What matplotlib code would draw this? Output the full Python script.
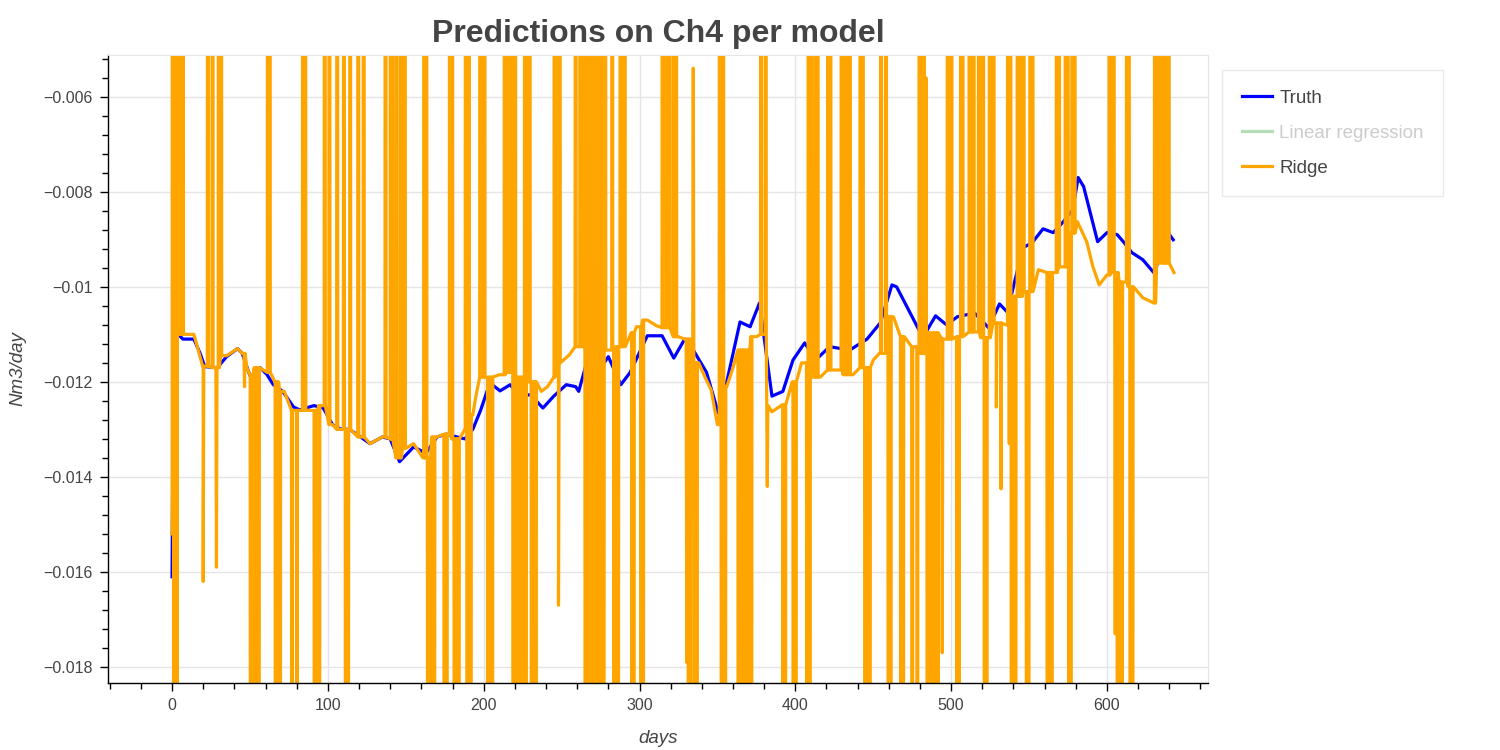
import numpy as np
import matplotlib
matplotlib.use("Agg")
import matplotlib.pyplot as plt
from matplotlib.lines import Line2D
from matplotlib.ticker import FixedLocator, MultipleLocator, FuncFormatter

plt.rcParams['font.family'] = ['Liberation Sans', 'DejaVu Sans']

# Truth curve (day, Nm3/day)
truth_days = [0, 1, 3, 7, 14, 18, 21, 29, 35, 42, 45, 50, 52, 56.5, 61, 65, 71, 78, 82, 91,
              97, 103, 108, 114, 121, 127, 135, 140, 146, 155, 163, 170, 176, 183, 188, 193,
              198, 204, 210.5, 217, 223, 230, 238, 245, 253, 259, 261, 266, 273, 280, 288,
              294, 305, 314.5, 322, 329, 334.5, 343, 350.5, 356, 364.5, 371, 377, 385, 392,
              398.5, 406, 413, 422, 435, 446, 454.5, 462, 465, 480, 483, 490, 497, 504, 515,
              524, 531, 536, 546, 552, 559, 565.5, 572, 578, 581.5, 585, 594, 600, 606.5,
              610.5, 616, 623, 630, 633, 637, 642.5]
truth_vals = [-0.0161, -0.0109, -0.01097, -0.0111, -0.0111, -0.0114, -0.01168, -0.0117,
              -0.01147, -0.0113, -0.0114, -0.01187, -0.0119, -0.0117, -0.01185, -0.01206,
              -0.0122, -0.01253, -0.01259, -0.0125, -0.01255, -0.0129, -0.01299, -0.0130,
              -0.01316, -0.0133, -0.01316, -0.0132, -0.01368, -0.01337, -0.0135, -0.01316,
              -0.0131, -0.01316, -0.0132, -0.0130, -0.0126, -0.01202, -0.01219, -0.01206,
              -0.0123, -0.01227, -0.01255, -0.0123, -0.01206, -0.0121, -0.0122, -0.0116,
              -0.0118, -0.01147, -0.01206, -0.0118, -0.01103, -0.01103, -0.0115, -0.0111,
              -0.01133, -0.0118, -0.01265, -0.0120, -0.01074, -0.01084, -0.01034, -0.0123,
              -0.0122, -0.01154, -0.01118, -0.01154, -0.01126, -0.01133, -0.0111, -0.01076,
              -0.00996, -0.0100, -0.01095, -0.0110, -0.01061, -0.0108, -0.01063, -0.01055,
              -0.01086, -0.01036, -0.01053, -0.00918, -0.00907, -0.00878, -0.00886, -0.00863,
              -0.00838, -0.0077, -0.00789, -0.00905, -0.00886, -0.0089, -0.00905, -0.00928,
              -0.00943, -0.0097, -0.00947, -0.00876, -0.00901]

# Ridge prediction: the slow part that follows the truth
ridge_base_days = [0, 1.5, 3, 14, 20, 27, 35, 42, 45, 48, 50, 56, 61, 66, 72, 80, 82, 91, 97,
                   103, 108, 114, 121, 127, 135, 140, 145, 150, 155, 161, 170, 176, 183, 188,
                   193, 195, 198, 204, 210, 217, 223, 232, 237, 241, 245, 248, 255, 261, 269,
                   280, 288, 295, 298, 305, 311, 315, 325, 329, 338, 342, 346, 350, 356, 360,
                   366, 375, 379, 380, 382.5, 385, 392, 398, 404, 416, 424, 437, 446, 450, 454,
                   463, 470, 476, 483, 489, 497, 506, 514, 522, 529, 535, 541, 550, 556, 565,
                   572, 578, 581, 587, 591, 595, 600, 604, 610, 617, 623, 630, 634, 638, 643]
ridge_base_vals = [-0.0152, -0.0125, -0.0110, -0.0110, -0.01167, -0.0117, -0.01145, -0.0113,
                   -0.0114, -0.0117, -0.01185, -0.0117, -0.0118, -0.0120, -0.0122, -0.0126,
                   -0.0126, -0.0126, -0.0125, -0.0129, -0.0130, -0.0130, -0.01316, -0.0133,
                   -0.01316, -0.0132, -0.0136, -0.0134, -0.0133, -0.0136, -0.01316, -0.0131,
                   -0.0132, -0.0130, -0.0127, -0.0123, -0.0119, -0.0119, -0.01185, -0.0118,
                   -0.0119, -0.0120, -0.0122, -0.0121, -0.0119, -0.0116, -0.01143, -0.01126,
                   -0.01107, -0.01133, -0.01126, -0.01097, -0.01084, -0.0107, -0.01082,
                   -0.01086, -0.01105, -0.0111, -0.0116, -0.0119, -0.01217, -0.0129, -0.0121,
                   -0.0117, -0.01133, -0.01105, -0.0110, -0.0110, -0.0125, -0.01263, -0.01248,
                   -0.0120, -0.0116, -0.0119, -0.01175, -0.01185, -0.0117, -0.01154, -0.0114,
                   -0.01063, -0.01105, -0.01126, -0.0114, -0.01097, -0.0111, -0.01105,
                   -0.01095, -0.01107, -0.01076, -0.0108, -0.0102, -0.0101, -0.00964, -0.0097,
                   -0.00958, -0.00887, -0.00863, -0.00905, -0.00958, -0.00996, -0.00975,
                   -0.0097, -0.0099, -0.0100, -0.01023, -0.01034, -0.0095, -0.0095, -0.0097]

# Ridge outliers (day, predicted value); +0.03 / -0.04 lie far outside the view
ridge_spikes = [
    (0.4, 0.03), (1.3, -0.04), (2.3, 0.03), (3.0, -0.04), (3.9, 0.03), (4.8, 0.03),
    (7.0, 0.03), (20.0, -0.0162), (23.0, 0.03), (26.0, 0.03), (28.5, -0.0159),
    (30.0, 0.03), (31.5, 0.03), (46.5, -0.0121),
    (50.5, -0.04), (51.8, -0.04), (53.1, -0.04), (54.4, -0.04), (55.7, -0.04),
    (61.5, 0.03), (62.7, 0.03), (66.5, -0.04), (68.0, -0.04), (69.3, -0.04),
    (77.0, -0.04), (80.0, -0.04), (84.0, 0.03), (85.5, 0.03),
    (91.5, -0.04), (93.0, -0.04), (94.5, -0.04), (98.0, 0.03), (101.0, 0.03),
    (106.0, 0.03), (110.3, 0.03), (111.5, -0.04), (113.0, -0.04), (114.3, 0.03),
    (119.5, 0.03), (123.0, 0.03), (137.0, 0.03), (140.0, 0.03), (141.3, 0.03),
    (144.0, 0.03), (146.8, 0.03), (148.2, 0.03), (149.4, 0.03),
    (161.8, 0.03), (163.2, 0.03), (164.2, -0.04), (165.5, -0.04), (167.0, -0.04),
    (168.3, -0.04), (174.8, -0.04), (176.3, -0.04), (178.3, 0.03), (179.8, 0.03),
    (181.3, -0.04), (182.8, -0.04), (184.0, -0.04),
    (188.5, 0.03), (189.5, -0.04), (190.5, 0.03), (191.7, -0.04),
    (197.8, 0.03), (199.3, 0.03), (200.5, 0.03), (202.8, -0.04), (204.3, -0.04),
    (205.5, -0.04), (213.5, 0.03), (215.0, 0.03), (216.5, 0.03), (218.0, 0.03),
    (219.0, -0.04), (220.2, 0.03), (221.2, -0.04), (222.3, -0.04), (223.7, -0.04),
    (225.0, -0.04), (226.5, 0.03), (227.0, -0.04), (228.2, 0.03), (229.5, 0.03),
    (230.8, -0.04), (232.3, -0.04), (233.5, -0.04),
    (245.5, 0.03), (247.0, 0.03), (248.0, -0.0167), (248.8, 0.03),
    (259.0, 0.03), (262.0, 0.03),
    (264.3, 0.03), (265.3, -0.04), (266.3, 0.03), (267.3, -0.04), (268.3, 0.03),
    (269.3, -0.04), (270.3, 0.03), (271.3, -0.04), (272.3, 0.03), (273.3, -0.04),
    (274.3, 0.03), (275.3, -0.04), (276.3, 0.03), (277.0, -0.04), (278.0, 0.03),
    (282.5, 0.03), (283.7, -0.04), (285.0, -0.04), (286.3, -0.04),
    (287.8, 0.03), (289.3, 0.03), (290.5, 0.03), (295.0, -0.04), (296.3, -0.04),
    (301.0, -0.04), (302.3, -0.04),
    (314.8, 0.03), (316.3, 0.03), (317.8, 0.03), (319.2, 0.03), (322.0, 0.03),
    (323.5, 0.03), (330.3, -0.0179), (331.5, -0.04), (332.8, -0.04), (334.5, -0.0054),
    (335.5, -0.04), (336.8, -0.04),
    (351.5, 0.03), (352.7, -0.04), (353.7, 0.03), (355.0, -0.04),
    (363.5, -0.04), (364.8, -0.04), (366.2, -0.04), (367.5, -0.04), (369.0, -0.04),
    (370.4, -0.04), (371.8, -0.04), (378.0, 0.03), (381.0, 0.03), (382.0, -0.0142),
    (392.0, -0.04), (393.5, -0.04), (398.8, -0.04), (400.3, -0.04),
    (407.5, -0.04), (408.5, 0.03), (409.3, -0.04), (410.3, 0.03), (413.0, 0.03),
    (414.3, 0.03), (421.0, 0.03), (422.5, 0.03),
    (429.7, 0.03), (431.0, 0.03), (432.3, 0.03), (433.7, 0.03), (435.0, 0.03),
    (441.8, 0.03), (443.3, 0.03), (444.8, -0.04), (446.3, -0.04), (447.8, -0.04),
    (455.0, 0.03), (458.2, 0.03), (459.8, -0.04), (461.2, -0.04),
    (467.8, -0.04), (469.2, -0.04), (475.0, -0.04), (478.3, -0.04),
    (479.7, 0.03), (481.2, 0.03), (482.5, 0.03), (483.8, -0.0056),
    (484.8, -0.04), (486.2, -0.04), (488.8, -0.04), (490.3, -0.04), (491.5, -0.04),
    (494.3, -0.0177), (497.8, 0.03), (500.2, 0.03), (503.8, -0.04), (505.0, -0.04),
    (506.0, 0.03), (507.3, 0.03), (511.8, 0.03), (513.2, 0.03), (514.4, 0.03),
    (517.8, 0.03), (519.2, 0.03), (520.5, 0.03), (521.5, -0.04), (522.8, -0.04),
    (524.8, 0.03), (527.2, 0.03), (529.0, -0.01253), (532.0, -0.01425),
    (536.5, 0.03), (537.3, -0.0133), (538.0, 0.03), (538.8, -0.04), (540.0, -0.04),
    (541.3, -0.04), (542.7, 0.03), (544.0, 0.03), (545.3, 0.03), (546.5, 0.03),
    (548.5, -0.04), (549.8, -0.04), (550.8, 0.03), (552.2, 0.03),
    (561.8, -0.04), (563.2, -0.04), (564.6, -0.04), (567.8, 0.03), (569.2, 0.03),
    (573.5, 0.03), (574.8, 0.03), (575.6, -0.04), (576.8, -0.04), (577.8, 0.03),
    (579.2, 0.03), (601.7, 0.03), (603.0, 0.03), (604.3, 0.03), (605.3, -0.0173),
    (606.8, -0.04), (608.2, -0.04), (609.6, -0.04), (612.8, 0.03), (614.0, 0.03),
    (615.0, -0.04), (616.4, -0.04),
    (630.8, 0.03), (632.2, 0.03), (633.4, 0.03), (635.7, 0.03), (637.0, 0.03),
    (638.3, 0.03), (639.6, 0.03),
]

y_ticks = [-0.018, -0.016, -0.014, -0.012, -0.010, -0.008, -0.006]
x_ticks = [0, 100, 200, 300, 400, 500, 600]


def build_ridge():
    base_d = np.array(ridge_base_days)
    pts = list(zip(ridge_base_days, ridge_base_vals))
    for d, tip in ridge_spikes:
        # foot of the outlier sits on the nearest read-off point of the slow curve
        foot = ridge_base_vals[int(np.argmin(np.abs(base_d - d)))]
        pts += [(d - 0.35, foot), (d, tip), (d + 0.35, foot)]
    pts.sort(key=lambda p: p[0])
    return [p[0] for p in pts], [p[1] for p in pts]


fig = plt.figure(figsize=(15, 7.5), dpi=100)
ax = fig.add_axes([0.072, 0.0893, 0.7333, 0.838])

ax.plot(truth_days, truth_vals, color='#0000ff', lw=2.3, solid_joinstyle='round')
rd, rv = build_ridge()
ax.plot(rd, rv, color='#ffa500', lw=2.3, solid_joinstyle='round')

ax.set_xlim(-41.1, 664.8)
ax.set_ylim(-0.018337, -0.005112)

ax.xaxis.set_major_locator(FixedLocator(x_ticks))
ax.xaxis.set_minor_locator(MultipleLocator(20))
ax.yaxis.set_major_locator(FixedLocator(y_ticks))
ax.yaxis.set_minor_locator(MultipleLocator(0.0004))


def fmt_y(v, pos):
    s = ('%.3f' % v).rstrip('0')
    return s.replace('-', '\u2212')


ax.yaxis.set_major_formatter(FuncFormatter(fmt_y))

ax.grid(True, which='major', color='#e5e5e5', lw=1)
ax.set_axisbelow(True)
for side in ['top', 'right']:
    ax.spines[side].set_color('#e5e5e5')
for side in ['left', 'bottom']:
    ax.spines[side].set_color('black')
    ax.spines[side].set_linewidth(1)

ax.tick_params(which='major', direction='out', length=6, width=1, colors='black',
               labelcolor='#444444', labelsize=11.5, pad=5)
ax.tick_params(which='minor', direction='out', length=4, width=1, colors='black')

ax.set_xlabel('days', fontsize=13.5, style='italic', color='#444444', labelpad=12)
ax.set_ylabel('Nm3/day', fontsize=13.5, style='italic', color='#444444', labelpad=12)
ax.set_title('Predictions on Ch4 per model', fontsize=23, fontweight='bold',
             color='#444444', pad=9)

handles = [Line2D([], [], color='#0000ff', lw=2.3),
           Line2D([], [], color='#2ca02c', lw=2.3, alpha=0.35),
           Line2D([], [], color='#ffa500', lw=2.3)]
leg = fig.legend(handles, ['Truth', 'Linear regression', 'Ridge'],
                 loc='upper left', bbox_to_anchor=(0.8147, 0.9067), fontsize=13.5,
                 frameon=True, fancybox=False, edgecolor='#e5e5e5', borderpad=1.05,
                 handlelength=1.6, handletextpad=0.4, labelspacing=0.95, borderaxespad=0)
leg.get_frame().set_linewidth(1)
for txt, c in zip(leg.get_texts(), ['#444444', '#cccccc', '#444444']):
    txt.set_color(c)

fig.savefig('out.png', dpi=100)
